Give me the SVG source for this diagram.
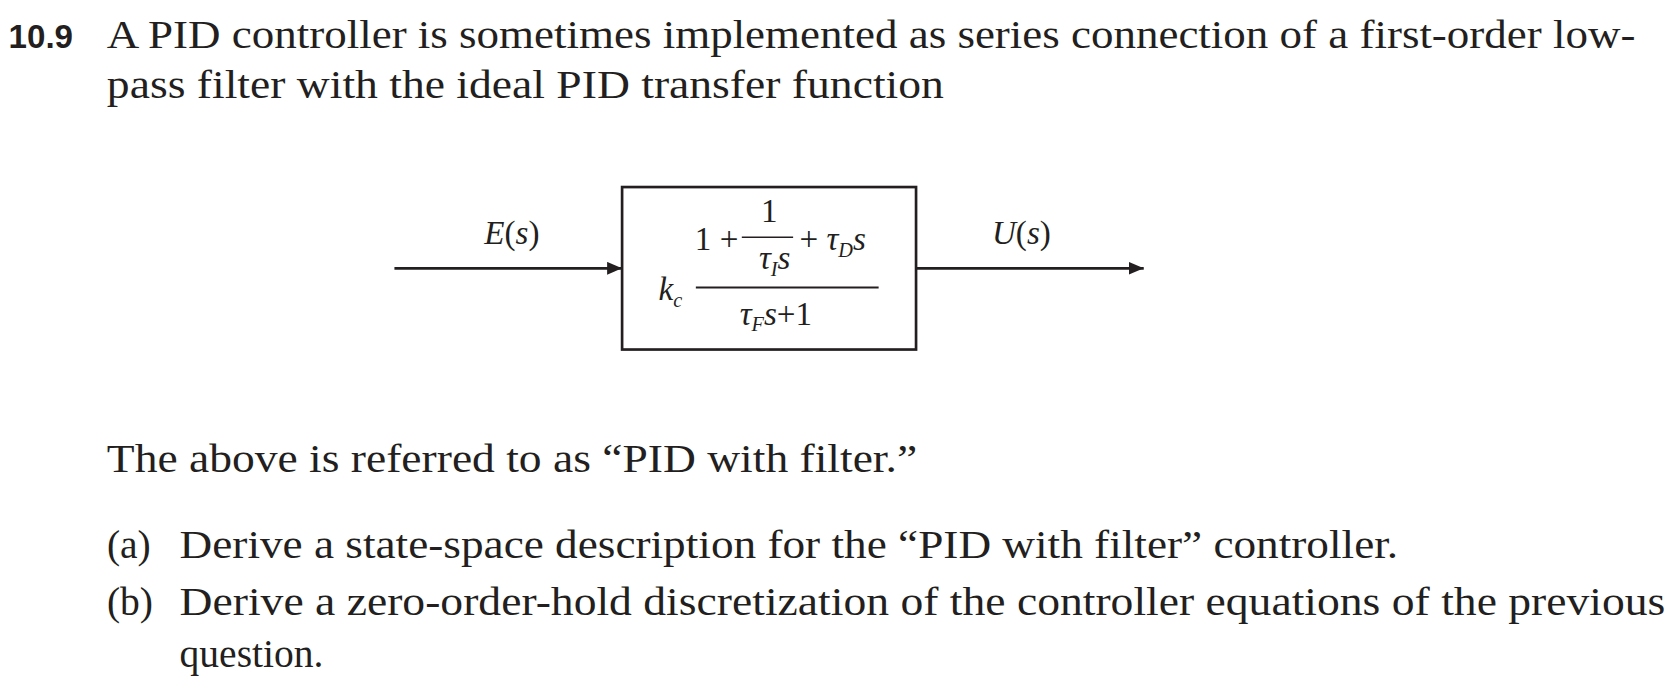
<svg xmlns="http://www.w3.org/2000/svg" width="1676" height="691" viewBox="0 0 1676 691">
<style>
.t{font-family:"Liberation Serif",serif;font-size:37px;fill:#231f20}
.m{font-family:"Liberation Serif",serif;font-size:31px;fill:#231f20}
.i{font-style:italic}
.ln{stroke:#231f20;stroke-width:2.5;fill:none}
</style>
<defs><marker id="ah" markerWidth="14" markerHeight="12" refX="14" refY="6" orient="auto" markerUnits="userSpaceOnUse"><path d="M0,0L14,6L0,12Z" fill="#231f20"/></marker></defs>
<rect width="1676" height="691" fill="#fff"/>
<g transform="scale(1.0689)">
<text x="8" y="45" font-family="'Liberation Sans',sans-serif" font-weight="bold" font-size="31" fill="#231f20">10.9</text>
<text class="t" x="100" y="45" textLength="1430" lengthAdjust="spacingAndGlyphs">A PID controller is sometimes implemented as series connection of a first-order low-</text>
<text class="t" x="100" y="92" textLength="783" lengthAdjust="spacingAndGlyphs">pass filter with the ideal PID transfer function</text>
<g id="connectors">
<line class="ln" x1="369" y1="251" x2="582" y2="251" marker-end="url(#ah)"/>
<line class="ln" x1="857" y1="251" x2="1070" y2="251" marker-end="url(#ah)"/>
</g>
<g id="in-label"><text class="m i" x="453" y="228">E<tspan font-style="normal">(</tspan>s<tspan font-style="normal">)</tspan></text></g>
<g id="out-label"><text class="m i" x="928" y="228">U<tspan font-style="normal">(</tspan>s<tspan font-style="normal">)</tspan></text></g>
<g id="block">
<rect class="ln" x="582" y="175" width="275" height="152" stroke-width="2"/>
<text class="m" x="712" y="208">1</text>
<text class="m" x="650" y="234">1 +</text>
<line x1="694" y1="222" x2="742" y2="222" stroke="#231f20" stroke-width="1.5"/>
<text class="m i" x="710" y="252">τ<tspan font-size="19" dy="6">I</tspan><tspan dy="-6">s</tspan></text>
<text class="m" x="748" y="234">+ <tspan class="i">τ<tspan font-size="19" dy="6">D</tspan><tspan dy="-6">s</tspan></tspan></text>
<line x1="651" y1="269" x2="822" y2="269" stroke="#231f20" stroke-width="2"/>
<text class="m i" x="616" y="281">k<tspan font-size="19" dy="6">c</tspan></text>
<text class="m i" x="692" y="304">τ<tspan font-size="19" dy="6">F</tspan><tspan dy="-6">s</tspan><tspan font-style="normal">+1</tspan></text>
</g>
<text class="t" x="100" y="442" textLength="758" lengthAdjust="spacingAndGlyphs">The above is referred to as “PID with filter.”</text>
<text class="t" x="100" y="522">(a)</text>
<text class="t" x="168" y="522" textLength="1140" lengthAdjust="spacingAndGlyphs">Derive a state-space description for the “PID with filter” controller.</text>
<text class="t" x="100" y="575">(b)</text>
<text class="t" x="168" y="575" textLength="1390" lengthAdjust="spacingAndGlyphs">Derive a zero-order-hold discretization of the controller equations of the previous</text>
<text class="t" x="168" y="624">question.</text>
</g>
</svg>
